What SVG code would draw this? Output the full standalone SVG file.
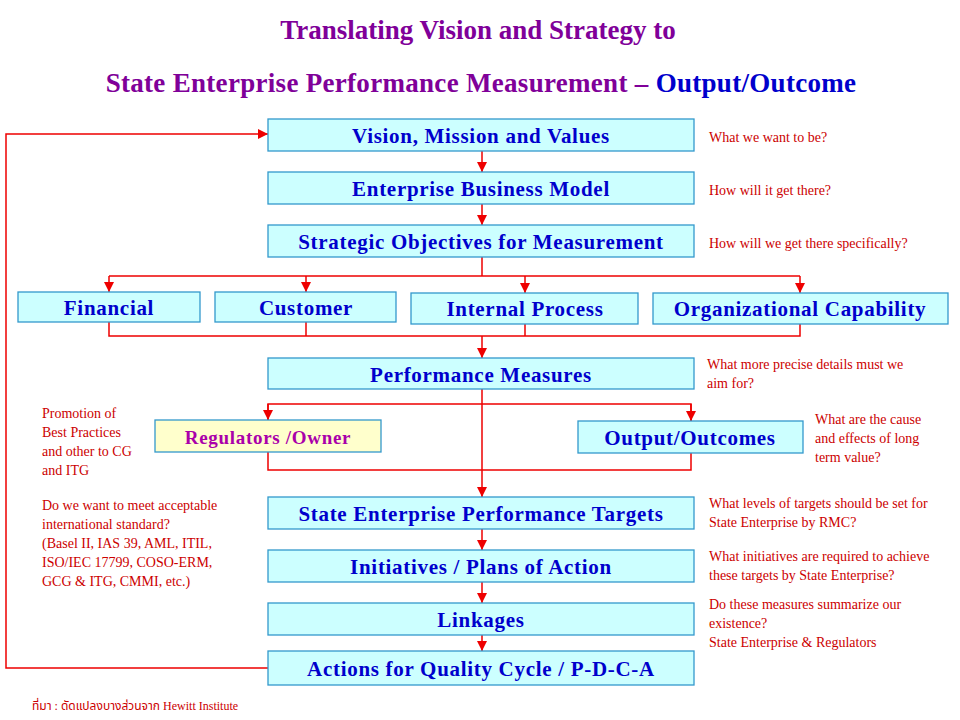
<svg xmlns="http://www.w3.org/2000/svg" width="960" height="720" viewBox="0 0 960 720">
<style>
.b{fill:#ccffff;stroke:#3399cc;stroke-width:1.3}
.y{fill:#ffffcc;stroke:#3399cc;stroke-width:1.3}
.t{font-family:"Liberation Serif",serif;font-weight:bold;font-size:21px;letter-spacing:0.7px;fill:#0000cc;text-anchor:middle}
.n{font-family:"Liberation Serif",serif;font-size:14px;fill:#cc0000}
.c line,.c path{stroke:#ee0000;stroke-width:1.5;fill:none}
</style>
<defs><marker id="a" viewBox="0 0 10 10" refX="10" refY="5" markerWidth="7" markerHeight="7" orient="auto"><path d="M0,0L10,5L0,10z" fill="#ee0000"/></marker></defs>
<rect width="960" height="720" fill="#fff"/>
<text x="478" y="39" text-anchor="middle" font-family="Liberation Serif,serif" font-weight="bold" font-size="27" fill="#800099">Translating Vision and Strategy to</text>
<text x="481" y="92" text-anchor="middle" font-family="Liberation Serif,serif" font-weight="bold" font-size="27" letter-spacing="0.3" fill="#800099">State Enterprise Performance Measurement – <tspan fill="#0000cc">Output/Outcome</tspan></text>
<g class="c">
<line x1="482" y1="151" x2="482" y2="172" marker-end="url(#a)"/>
<line x1="482" y1="204" x2="482" y2="225" marker-end="url(#a)"/>
<line x1="482" y1="257" x2="482" y2="276"/>
<line x1="109" y1="276" x2="800" y2="276"/>
<line x1="109" y1="276" x2="109" y2="292" marker-end="url(#a)"/>
<line x1="306" y1="276" x2="306" y2="292" marker-end="url(#a)"/>
<line x1="525" y1="276" x2="525" y2="293" marker-end="url(#a)"/>
<line x1="800" y1="276" x2="800" y2="293" marker-end="url(#a)"/>
<path d="M109,322V336H800V324M306,322V336M525,324V336"/>
<line x1="482" y1="336" x2="482" y2="358" marker-end="url(#a)"/>
<line x1="482" y1="389" x2="482" y2="497" marker-end="url(#a)"/>
<path d="M268,420V404H691V421" />
<line x1="268" y1="404" x2="268" y2="420" marker-end="url(#a)"/>
<line x1="691" y1="404" x2="691" y2="421" marker-end="url(#a)"/>
<path d="M268,452V470H691V453"/>
<line x1="482" y1="529" x2="482" y2="550" marker-end="url(#a)"/>
<line x1="482" y1="582" x2="482" y2="603" marker-end="url(#a)"/>
<line x1="482" y1="635" x2="482" y2="651" marker-end="url(#a)"/>
<path d="M268,668H6V134H268" marker-end="url(#a)"/>
</g>
<g id="vision"><rect class="b" x="268" y="119" width="426" height="32"/><text class="t" x="481" y="143">Vision, Mission and Values</text></g>
<g id="ebm"><rect class="b" x="268" y="172" width="426" height="32"/><text class="t" x="481" y="196">Enterprise Business Model</text></g>
<g id="so"><rect class="b" x="268" y="225" width="426" height="32"/><text class="t" x="481" y="249">Strategic Objectives for Measurement</text></g>
<g id="fin"><rect class="b" x="18" y="292" width="182" height="30"/><text class="t" x="109" y="315">Financial</text></g>
<g id="cus"><rect class="b" x="215" y="292" width="181" height="30"/><text class="t" x="306" y="315">Customer</text></g>
<g id="ip"><rect class="b" x="411" y="293" width="227" height="31"/><text class="t" x="525" y="316">Internal Process</text></g>
<g id="oc"><rect class="b" x="653" y="293" width="295" height="31"/><text class="t" x="800" y="316">Organizational Capability</text></g>
<g id="pm"><rect class="b" x="268" y="358" width="426" height="31"/><text class="t" x="481" y="382">Performance Measures</text></g>
<g id="reg"><rect class="y" x="155" y="420" width="226" height="32"/><text class="t" x="268" y="444" style="fill:#aa00aa;font-size:19px">Regulators /Owner</text></g>
<g id="out"><rect class="b" x="578" y="421" width="225" height="32"/><text class="t" x="690" y="445">Output/Outcomes</text></g>
<g id="set"><rect class="b" x="268" y="497" width="426" height="32"/><text class="t" x="481" y="521">State Enterprise Performance Targets</text></g>
<g id="ini"><rect class="b" x="268" y="550" width="426" height="32"/><text class="t" x="481" y="574">Initiatives / Plans of Action</text></g>
<g id="lnk"><rect class="b" x="268" y="603" width="426" height="32"/><text class="t" x="481" y="627">Linkages</text></g>
<g id="act"><rect class="b" x="268" y="651" width="426" height="34"/><text class="t" x="481" y="676">Actions for Quality Cycle / P-D-C-A</text></g>
<g class="n">
<text x="709" y="142">What we want to be?</text>
<text x="709" y="195">How will it get there?</text>
<text x="709" y="248">How will we get there specifically?</text>
<text x="707" y="369">What more precise details must we</text>
<text x="707" y="388">aim for?</text>
<text x="815" y="424">What are the cause</text>
<text x="815" y="443">and effects of long</text>
<text x="815" y="462">term value?</text>
<text x="42" y="418">Promotion of</text>
<text x="42" y="437">Best Practices</text>
<text x="42" y="456">and other to CG</text>
<text x="42" y="475">and ITG</text>
<text x="42" y="510">Do we want to meet acceptable</text>
<text x="42" y="529">international standard?</text>
<text x="42" y="548">(Basel II, IAS 39, AML, ITIL,</text>
<text x="42" y="567">ISO/IEC 17799, COSO-ERM,</text>
<text x="42" y="586">GCG &amp; ITG, CMMI, etc.)</text>
<text x="709" y="508">What levels of targets should be set for</text>
<text x="709" y="527">State Enterprise by RMC?</text>
<text x="709" y="561">What initiatives are required to achieve</text>
<text x="709" y="580">these targets by State Enterprise?</text>
<text x="709" y="609">Do these measures summarize our</text>
<text x="709" y="628">existence?</text>
<text x="709" y="647">State Enterprise &amp; Regulators</text>
<text x="32" y="710" style="font-size:12px;font-family:'Liberation Serif','Noto Sans Thai','Noto Sans',sans-serif">ที่มา : ดัดแปลงบางส่วนจาก Hewitt Institute</text>
</g>
</svg>
